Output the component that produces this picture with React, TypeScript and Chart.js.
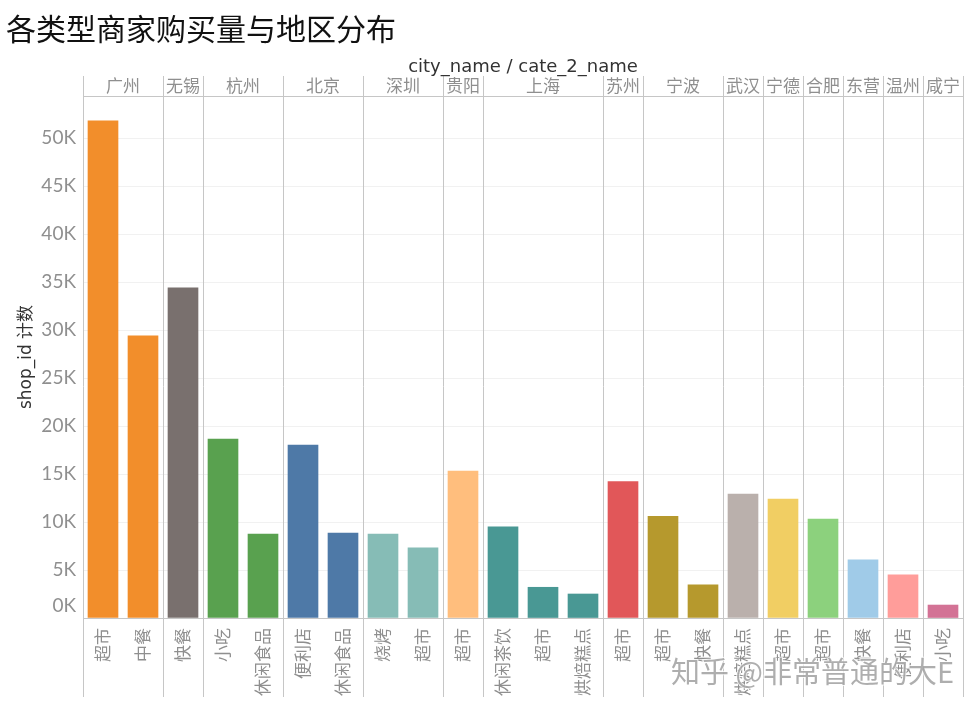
import { useEffect, useRef } from "react"
import { Chart, registerables } from "chart.js"

Chart.register(...registerables)

const categories = [
  "超市", "中餐", "快餐", "小吃", "休闲食品", "便利店", "休闲食品", "烧烤", "超市", "超市", "休闲茶饮",
  "超市", "烘焙糕点", "超市", "超市", "快餐", "烘焙糕点", "超市", "超市", "快餐", "便利店", "小吃",
]
const shopCounts = [
  51800, 29400, 34400, 18650, 8750, 18000, 8850, 8750, 7300, 15300, 9500,
  3200, 2500, 14200, 10600, 3450, 12900, 12400, 10300, 6050, 4500, 1350,
]
const cities = ["广州", "无锡", "杭州", "北京", "深圳", "贵阳", "上海", "苏州", "宁波", "武汉", "宁德", "合肥", "东营", "温州", "咸宁"]
const citySpans = [2, 1, 2, 2, 2, 1, 3, 1, 2, 1, 1, 1, 1, 1, 1]
const cityColors = [
  "#F28E2B", "#79706E", "#59A14F", "#4E79A7", "#86BCB6", "#FFBE7D", "#499894", "#E15759",
  "#B6992D", "#BAB0AC", "#F1CE63", "#8CD17D", "#A0CBE8", "#FF9D9A", "#D37295",
]

const LATIN = "'DejaVu Sans', 'Noto Sans CJK SC'"
const CJK = "'Noto Sans CJK SC'"
const TICKS = "Lato, 'Noto Sans'"
const GREY = "#8f8f8f"
const LINE = "#c6c6c6"

// one colour per bar, repeated over the city's span
const barColors = citySpans.flatMap((n, i) => Array(n).fill(cityColors[i]))

// title, city header, separators and the lifted 0K label
const overlay = {
  id: "overlay",
  afterDraw(chart: any) {
    const { ctx, chartArea, scales } = chart
    const { left, right, top, bottom } = chartArea
    const step = scales.x.width / categories.length
    ctx.save()

    ctx.strokeStyle = LINE
    ctx.lineWidth = 1
    ctx.beginPath()
    ctx.moveTo(left, Math.round(top) + 0.5)
    ctx.lineTo(right, Math.round(top) + 0.5)
    ctx.moveTo(left, Math.round(bottom) + 0.5)
    ctx.lineTo(right, Math.round(bottom) + 0.5)

    ctx.fillStyle = GREY
    ctx.font = `17px ${CJK}`
    ctx.textAlign = "center"
    ctx.textBaseline = "middle"
    let start = 0
    citySpans.forEach((n, i) => {
      const x0 = scales.x.getPixelForValue(start) - step / 2
      const x1 = x0 + n * step
      ctx.moveTo(Math.round(x0) + 0.5, 76)
      ctx.lineTo(Math.round(x0) + 0.5, 697)
      if (i === citySpans.length - 1) {
        ctx.moveTo(Math.round(x1) + 0.5, 76)
        ctx.lineTo(Math.round(x1) + 0.5, 697)
      }
      ctx.fillText(cities[i], (x0 + x1) / 2, 86)
      start += n
    })
    ctx.stroke()

    ctx.textAlign = "right"
    ctx.font = `19px ${TICKS}`
    ctx.fillText("0K", 76, scales.y.getPixelForValue(0) - 12)

    ctx.fillStyle = "#333333"
    ctx.textAlign = "center"
    ctx.font = `18px ${LATIN}`
    ctx.fillText("city_name / cate_2_name", 523, 67)

    ctx.fillStyle = "#111111"
    ctx.textAlign = "left"
    ctx.font = `30px ${CJK}`
    ctx.fillText("各类型商家购买量与地区分布", 6, 29)

    // watermark
    ctx.font = `29px ${CJK}`
    ctx.fillStyle = "rgba(140,140,140,0.7)"
    ctx.strokeStyle = "rgba(255,255,255,0.75)"
    ctx.lineWidth = 2
    ctx.strokeText("知乎 @非常普通的大E", 671, 672)
    ctx.fillText("知乎 @非常普通的大E", 671, 672)
    ctx.restore()
  },
}

export default function App() {
  const chartRef = useRef<HTMLCanvasElement>(null)

  useEffect(() => {
    if (!chartRef.current) return
    document.body.style.margin = "0"

    const chart = new Chart(chartRef.current, {
      type: "bar",
      data: {
        labels: categories,
        datasets: [
          {
            label: "shop_id 计数",
            data: shopCounts,
            backgroundColor: barColors,
            barThickness: 30,
          },
        ],
      },
      options: {
        responsive: false,
        animation: false,
        layout: { padding: { top: 96, right: 14, left: 0, bottom: 0 } },
        plugins: {
          legend: { display: false },
          tooltip: { enabled: false },
        },
        scales: {
          x: {
            afterFit: (scale: any) => {
              scale.height = 92
            },
            grid: { display: false },
            border: { display: false },
            ticks: {
              autoSkip: false,
              minRotation: 90,
              maxRotation: 90,
              padding: 2,
              color: GREY,
              font: { family: CJK, size: 17 },
            },
          },
          y: {
            min: 0,
            max: 54375,
            afterFit: (scale: any) => {
              scale.width = 83
            },
            afterBuildTicks: (scale: any) => {
              scale.ticks = [0, 5, 10, 15, 20, 25, 30, 35, 40, 45, 50].map((k) => ({ value: k * 1000 }))
            },
            title: {
              display: true,
              text: "shop_id 计数",
              color: "#333333",
              font: { family: LATIN, size: 17 },
              padding: { top: 16, bottom: 0 },
            },
            grid: {
              color: (c: any) => (c.tick && c.tick.value === 0 ? "rgba(0,0,0,0)" : "#f1f1f1"),
              drawTicks: false,
            },
            border: { display: false },
            ticks: {
              padding: 7,
              color: GREY,
              font: { family: TICKS, size: 19 },
              callback: (v: any) => (v === 0 ? "" : `${v / 1000}K`),
            },
          },
        },
      },
      plugins: [overlay],
    })

    return () => chart.destroy()
  }, [])

  return <canvas ref={chartRef} width={977} height={710} style={{ display: "block" }} />
}
